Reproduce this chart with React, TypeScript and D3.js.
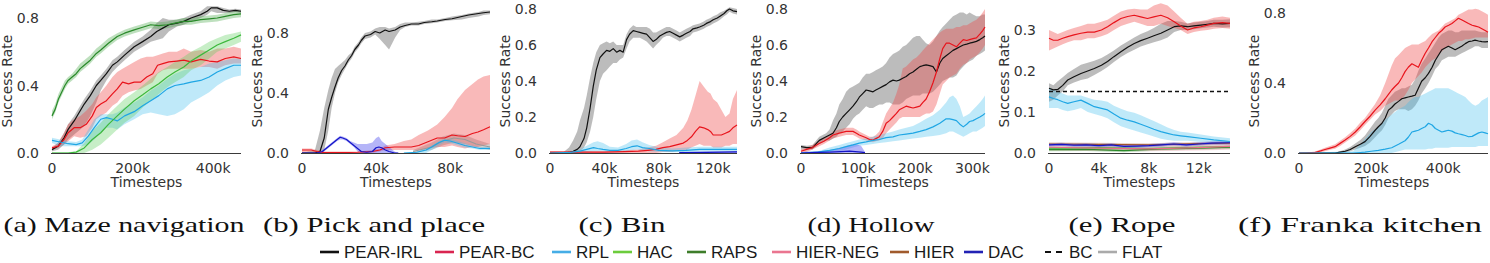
import React from 'react';
import * as d3 from 'd3';

type Pt = number[]; // [timestep (k), mean, lower, upper]

// ---------------- DATA ----------------
// (a) Maze navigation
const mazePearIrl: Pt[] = [
  [0,0.02,0.01,0.03],[15,0.04,0.02,0.06],[30,0.09,0.05,0.12],[40,0.14,0.08,0.17],[55,0.19,0.11,0.22],
  [70,0.25,0.14,0.28],[80,0.29,0.16,0.32],[95,0.34,0.22,0.37],[110,0.4,0.3,0.43],[121,0.43,0.37,0.46],
  [135,0.47,0.43,0.5],[150,0.52,0.48,0.55],[162,0.54,0.51,0.57],[180,0.58,0.55,0.61],[204,0.63,0.6,0.66],
  [225,0.66,0.63,0.69],[245,0.69,0.66,0.73],[260,0.72,0.67,0.77],[275,0.74,0.68,0.8],[290,0.76,0.72,0.79],
  [310,0.77,0.75,0.79],[327,0.78,0.76,0.8],[345,0.8,0.78,0.82],[369,0.82,0.8,0.84],[385,0.84,0.82,0.87],
  [395,0.86,0.84,0.87],[410,0.86,0.83,0.87],[425,0.845,0.83,0.86],[440,0.84,0.83,0.85],[455,0.845,0.835,0.855],
  [469,0.84,0.83,0.85],
];
const mazePearBc: Pt[] = [
  [0,0.03,0.02,0.04],[15,0.04,0.03,0.06],[30,0.08,0.05,0.12],[40,0.12,0.07,0.17],[55,0.15,0.1,0.2],
  [70,0.15,0.09,0.22],[85,0.17,0.1,0.25],[100,0.22,0.15,0.29],[110,0.27,0.2,0.33],[121,0.29,0.22,0.36],
  [135,0.31,0.24,0.4],[150,0.35,0.28,0.45],[162,0.38,0.3,0.48],[175,0.42,0.34,0.5],[190,0.41,0.36,0.52],
  [204,0.42,0.37,0.54],[220,0.42,0.38,0.56],[235,0.45,0.4,0.57],[250,0.47,0.42,0.57],[262,0.52,0.47,0.58],
  [275,0.53,0.49,0.59],[290,0.54,0.5,0.6],[310,0.545,0.5,0.6],[327,0.55,0.5,0.62],[345,0.54,0.5,0.6],
  [369,0.555,0.51,0.61],[390,0.545,0.51,0.6],[410,0.54,0.5,0.62],[430,0.56,0.52,0.62],[451,0.57,0.53,0.63],
  [469,0.56,0.53,0.62],
];
const mazeRpl: Pt[] = [
  [0,0.075,0.06,0.09],[20,0.065,0.04,0.08],[40,0.055,0.04,0.07],[60,0.05,0.04,0.065],[75,0.06,0.04,0.08],
  [90,0.1,0.05,0.14],[105,0.15,0.08,0.2],[121,0.2,0.12,0.23],[135,0.21,0.15,0.23],[150,0.2,0.15,0.23],
  [162,0.19,0.14,0.24],[180,0.22,0.17,0.27],[204,0.245,0.2,0.3],[225,0.28,0.23,0.33],[245,0.31,0.24,0.37],
  [265,0.34,0.23,0.4],[286,0.38,0.22,0.44],[305,0.4,0.23,0.47],[327,0.41,0.26,0.49],[345,0.42,0.3,0.5],
  [369,0.43,0.33,0.51],[390,0.45,0.36,0.53],[410,0.48,0.4,0.54],[430,0.5,0.43,0.55],[451,0.52,0.45,0.56],
  [469,0.52,0.46,0.56],
];
const mazeHac: Pt[] = [
  [0,0,0,0.005],[40,0,0,0.005],[60,0.005,0,0.01],[80,0.03,0,0.06],[100,0.08,0.02,0.13],
  [121,0.12,0.05,0.18],[140,0.17,0.09,0.23],[162,0.22,0.14,0.28],[180,0.26,0.18,0.32],[204,0.31,0.22,0.36],
  [225,0.345,0.27,0.4],[245,0.38,0.31,0.44],[265,0.41,0.35,0.48],[286,0.45,0.39,0.51],[305,0.48,0.42,0.54],
  [327,0.51,0.45,0.57],[345,0.545,0.49,0.6],[369,0.58,0.52,0.63],[390,0.61,0.56,0.66],[410,0.64,0.6,0.68],
  [430,0.66,0.62,0.7],[451,0.68,0.64,0.71],[469,0.7,0.66,0.72],
];
const mazeRaps: Pt[] = [
  [0,0.22,0.2,0.25],[8,0.26,0.24,0.29],[16,0.32,0.3,0.35],[24,0.36,0.34,0.39],[32,0.4,0.38,0.43],
  [40,0.43,0.41,0.45],[50,0.45,0.43,0.47],[60,0.47,0.45,0.5],[70,0.5,0.48,0.53],[80,0.52,0.5,0.55],
  [95,0.55,0.53,0.58],[110,0.59,0.57,0.62],[121,0.61,0.59,0.64],[140,0.65,0.63,0.68],[162,0.69,0.67,0.71],
  [180,0.71,0.69,0.73],[204,0.73,0.71,0.75],[225,0.745,0.725,0.765],[245,0.76,0.74,0.78],[265,0.755,0.735,0.775],
  [286,0.76,0.74,0.78],[305,0.77,0.75,0.79],[327,0.78,0.76,0.8],[345,0.78,0.76,0.8],[369,0.79,0.77,0.81],
  [390,0.795,0.775,0.815],[410,0.8,0.78,0.82],[430,0.81,0.79,0.83],[451,0.82,0.8,0.84],[469,0.825,0.805,0.845],
];

// (b) Pick and place
const pickPearIrl: Pt[] = [
  [0,0,0,0],[7,0,0,0.02],[9.7,0.01,0,0.15],[12,0.1,0.02,0.3],[14.2,0.29,0.15,0.42],[16,0.37,0.3,0.5],
  [17.8,0.44,0.4,0.56],[19.5,0.5,0.47,0.58],[21.4,0.55,0.52,0.6],[23.2,0.58,0.56,0.62],[25,0.62,0.6,0.65],
  [26.8,0.65,0.63,0.67],[28.5,0.69,0.67,0.71],[30.5,0.72,0.7,0.74],[32,0.75,0.73,0.77],[34,0.78,0.76,0.8],
  [37,0.79,0.77,0.81],[39.5,0.81,0.79,0.83],[42,0.8,0.76,0.84],[44.9,0.82,0.72,0.84],[47,0.81,0.69,0.83],
  [50.3,0.82,0.77,0.84],[53,0.84,0.82,0.86],[55.7,0.85,0.84,0.87],[59,0.86,0.85,0.87],[62.9,0.86,0.85,0.875],
  [66,0.87,0.86,0.88],[70,0.875,0.865,0.89],[73,0.88,0.87,0.89],[77.3,0.89,0.88,0.9],[81,0.895,0.885,0.91],
  [86.3,0.91,0.89,0.92],[90,0.92,0.9,0.93],[95.3,0.93,0.91,0.94],[98,0.935,0.92,0.95],[101.5,0.94,0.925,0.95],
];
const pickPearBc: Pt[] = [
  [0,0.02,0,0.03],[5,0.02,0.01,0.03],[8,0.01,0,0.02],[12,0.003,0,0.01],[20,0.003,0,0.01],[30,0.005,0,0.01],
  [38,0.01,0,0.02],[42,0.02,0.01,0.03],[45,0.035,0.02,0.05],[50,0.04,0.02,0.06],[55,0.04,0.02,0.08],
  [59,0.04,0.02,0.09],[63,0.05,0.02,0.12],[68,0.075,0.03,0.15],[73,0.1,0.04,0.19],[77,0.1,0.04,0.24],
  [81,0.12,0.05,0.3],[84,0.115,0.04,0.36],[88,0.11,0.03,0.42],[92,0.13,0.04,0.46],[95,0.14,0.04,0.49],
  [98,0.155,0.05,0.51],[101.5,0.175,0.06,0.52],
];
const pickDac: Pt[] = [
  [0,0,0,0],[8,0,0,0],[11,0.01,0,0.02],[14,0.04,0.03,0.05],[17,0.07,0.06,0.08],[19,0.09,0.08,0.1],
  [20.6,0.105,0.09,0.115],[22,0.1,0.09,0.11],[24,0.09,0.08,0.1],[26,0.07,0.06,0.08],[28,0.05,0.04,0.07],
  [30,0.03,0.01,0.06],[32,0.01,0,0.06],[35,0.005,0,0.06],[38,0.01,0,0.07],[40,0.035,0,0.1],
  [41.5,0.04,0,0.11],[43,0.035,0,0.08],[45,0.02,0,0.06],[47,0.01,0,0.04],[50,0,0,0.01],[52,0,0,0],
];
const pickRpl: Pt[] = [
  [55,0,0,0],[62,0.005,0,0.01],[67,0.02,0,0.03],[70,0.04,0.02,0.05],[74,0.07,0.05,0.08],[77,0.085,0.07,0.095],
  [80,0.08,0.065,0.095],[84,0.065,0.05,0.08],[88,0.05,0.035,0.065],[92,0.04,0.03,0.05],[96,0.03,0.02,0.04],
  [101.5,0.03,0.02,0.04],
];
const pickFlat: Pt[] = [
  [60,0.01,0,0.02],[70,0.04,0.02,0.07],[76,0.08,0.05,0.11],[82,0.1,0.07,0.13],[88,0.09,0.06,0.12],
  [94,0.06,0.04,0.09],[101.5,0.04,0.02,0.06],
];

// (c) Bin
const binPearIrl: Pt[] = [
  [0,0,0,0],[10,0,0,0.005],[14,0.003,0,0.03],[17,0.01,0,0.07],[20,0.02,0,0.12],[22,0.035,0.01,0.18],
  [25,0.08,0.03,0.25],[27,0.14,0.06,0.32],[29.5,0.25,0.12,0.42],[31.8,0.37,0.2,0.5],[34,0.46,0.3,0.56],
  [36.7,0.53,0.4,0.6],[39,0.55,0.44,0.61],[41.6,0.57,0.46,0.62],[44,0.565,0.48,0.61],[46.5,0.58,0.5,0.62],
  [49,0.56,0.5,0.6],[51.4,0.57,0.52,0.6],[53.8,0.56,0.53,0.6],[56.3,0.63,0.58,0.66],[58.5,0.66,0.62,0.69],
  [61.2,0.68,0.64,0.71],[63.5,0.675,0.64,0.7],[66,0.67,0.64,0.7],[68.5,0.665,0.63,0.7],[71,0.66,0.62,0.7],
  [73.5,0.64,0.6,0.69],[75.8,0.62,0.58,0.67],[78,0.63,0.6,0.67],[80.7,0.65,0.62,0.68],[83,0.66,0.64,0.69],
  [85.6,0.67,0.65,0.7],[88,0.675,0.65,0.7],[90.5,0.665,0.64,0.69],[93,0.655,0.63,0.68],[95.4,0.645,0.62,0.67],
  [98,0.655,0.63,0.68],[100.3,0.665,0.64,0.69],[103,0.675,0.65,0.7],[105.2,0.69,0.67,0.71],[108,0.695,0.675,0.715],
  [110,0.7,0.68,0.72],[113,0.71,0.69,0.73],[115,0.72,0.7,0.74],[118,0.73,0.71,0.75],[120,0.74,0.72,0.76],
  [123,0.75,0.73,0.77],[125,0.76,0.74,0.78],[128,0.775,0.76,0.79],[130,0.79,0.77,0.8],[132,0.8,0.785,0.81],
  [134.5,0.79,0.775,0.805],[137.5,0.785,0.77,0.8],
];
const binPearBc: Pt[] = [
  [0,0.005,0,0.01],[20,0.005,0,0.01],[40,0.005,0,0.01],[55,0.008,0,0.015],[65,0.01,0,0.02],[72,0.015,0,0.03],
  [78,0.02,0,0.04],[83,0.03,0.005,0.06],[88,0.035,0.005,0.08],[93,0.045,0.01,0.1],[98,0.055,0.01,0.14],
  [101,0.07,0.02,0.18],[104,0.09,0.03,0.24],[107,0.12,0.04,0.32],[110,0.145,0.05,0.4],[113,0.14,0.04,0.37],
  [116,0.13,0.04,0.34],[118,0.12,0.04,0.33],[120,0.1,0.03,0.3],[123,0.1,0.03,0.28],[126,0.1,0.03,0.24],
  [129,0.11,0.04,0.2],[132,0.12,0.04,0.22],[134.5,0.14,0.05,0.3],[137.5,0.155,0.05,0.35],
];
const binRpl: Pt[] = [
  [0,0,0,0],[15,0.003,0,0.005],[22,0.01,0,0.02],[27,0.02,0.005,0.04],[32,0.03,0.01,0.06],[35,0.025,0.01,0.065],
  [39,0.02,0.01,0.055],[44,0.015,0.005,0.035],[50,0.015,0.005,0.03],[56,0.025,0.01,0.05],[60,0.035,0.015,0.07],
  [64,0.04,0.02,0.075],[68,0.03,0.015,0.06],[73,0.025,0.01,0.045],[80,0.015,0.005,0.03],[90,0.012,0.004,0.025],
  [100,0.015,0.005,0.03],[110,0.02,0.008,0.035],[120,0.02,0.008,0.035],[130,0.02,0.008,0.035],[137.5,0.02,0.008,0.035],
];
const binDac: Pt[] = [[95,0.002,0,0.004],[115,0.004,0,0.008],[137.5,0.006,0,0.01]];

// (d) Hollow
const hollowPearIrl: Pt[] = [
  [0,0.035,0.02,0.045],[10,0.03,0.02,0.04],[20,0.03,0.02,0.045],[32,0.07,0.05,0.09],[44,0.09,0.07,0.11],
  [50,0.1,0.07,0.13],[56,0.11,0.08,0.18],[62,0.14,0.09,0.22],[67,0.175,0.11,0.27],[73,0.2,0.12,0.3],
  [79,0.22,0.14,0.34],[85,0.24,0.16,0.36],[91,0.26,0.19,0.37],[97,0.285,0.21,0.38],[102,0.31,0.22,0.39],
  [108,0.33,0.24,0.42],[114,0.35,0.26,0.44],[120,0.345,0.25,0.44],[126,0.34,0.25,0.45],[131,0.35,0.26,0.46],
  [137,0.36,0.27,0.47],[143,0.37,0.27,0.48],[149,0.38,0.28,0.5],[155,0.395,0.28,0.53],[161,0.405,0.27,0.55],
  [167,0.4,0.27,0.56],[172,0.405,0.27,0.57],[178,0.415,0.28,0.59],[184,0.425,0.3,0.6],[190,0.44,0.31,0.62],
  [196,0.45,0.32,0.64],[202,0.465,0.32,0.65],[208,0.48,0.32,0.65],[213,0.485,0.33,0.63],[219,0.49,0.33,0.61],
  [225,0.485,0.33,0.6],[231,0.48,0.34,0.62],[237,0.45,0.36,0.65],[243,0.5,0.38,0.68],[248,0.525,0.4,0.7],
  [254,0.54,0.41,0.72],[260,0.555,0.42,0.74],[266,0.57,0.42,0.76],[272,0.58,0.43,0.77],[278,0.59,0.46,0.78],
  [284,0.6,0.48,0.78],[290,0.605,0.5,0.77],[295,0.61,0.51,0.78],[301,0.615,0.52,0.77],[307,0.62,0.54,0.76],
  [313,0.63,0.55,0.76],[318,0.64,0.56,0.77],[322,0.65,0.57,0.77],
];
const hollowPearBc: Pt[] = [
  [0,0.01,0,0.02],[10,0.02,0.005,0.03],[20,0.03,0.02,0.045],[30,0.05,0.035,0.065],[40,0.065,0.05,0.08],
  [50,0.085,0.07,0.1],[56,0.1,0.08,0.12],[67,0.11,0.09,0.13],[79,0.12,0.1,0.14],[91,0.12,0.1,0.14],
  [97,0.11,0.09,0.13],[102,0.1,0.08,0.12],[114,0.085,0.07,0.1],[120,0.075,0.065,0.09],[126,0.072,0.06,0.09],
  [131,0.08,0.065,0.1],[137,0.09,0.07,0.12],[143,0.12,0.08,0.17],[149,0.165,0.11,0.22],[155,0.18,0.13,0.25],
  [161,0.2,0.15,0.28],[167,0.22,0.17,0.33],[172,0.24,0.19,0.38],[178,0.25,0.2,0.47],[184,0.26,0.2,0.48],
  [190,0.255,0.2,0.5],[196,0.25,0.2,0.52],[202,0.255,0.2,0.53],[208,0.26,0.2,0.55],[213,0.28,0.21,0.57],
  [219,0.3,0.22,0.59],[225,0.34,0.22,0.61],[231,0.39,0.23,0.63],[237,0.45,0.27,0.65],[243,0.525,0.33,0.67],
  [248,0.58,0.38,0.68],[254,0.61,0.4,0.69],[260,0.61,0.42,0.69],[266,0.6,0.43,0.69],[272,0.59,0.44,0.7],
  [278,0.61,0.47,0.7],[284,0.63,0.49,0.71],[290,0.625,0.5,0.71],[295,0.63,0.52,0.72],[301,0.635,0.53,0.73],
  [307,0.64,0.54,0.74],[313,0.66,0.56,0.76],[318,0.68,0.58,0.78],[322,0.7,0.6,0.8],
];
const hollowRpl: Pt[] = [
  [0,0,0,0.005],[30,0.005,0,0.01],[50,0.015,0.005,0.03],[67,0.025,0.01,0.045],[79,0.035,0.02,0.055],
  [91,0.045,0.03,0.065],[102,0.055,0.04,0.075],[114,0.062,0.045,0.08],[126,0.07,0.05,0.09],[137,0.075,0.055,0.1],
  [149,0.085,0.06,0.11],[161,0.09,0.065,0.12],[172,0.1,0.07,0.13],[184,0.105,0.075,0.14],[196,0.11,0.08,0.15],
  [208,0.12,0.085,0.17],[219,0.13,0.09,0.19],[231,0.145,0.095,0.21],[243,0.165,0.1,0.24],[254,0.19,0.11,0.28],
  [260,0.19,0.12,0.31],[266,0.185,0.12,0.32],[272,0.18,0.11,0.3],[278,0.16,0.1,0.26],[284,0.145,0.09,0.2],
  [290,0.16,0.1,0.21],[295,0.175,0.11,0.22],[301,0.18,0.12,0.24],[307,0.19,0.12,0.26],[313,0.2,0.13,0.28],
  [318,0.21,0.14,0.3],[322,0.22,0.15,0.32],
];
const hollowDac: Pt[] = [
  [0,0,0,0.005],[30,0.003,0,0.01],[50,0.005,0,0.015],[70,0.008,0,0.03],[85,0.01,0,0.045],[95,0.008,0,0.05],
  [105,0.005,0,0.04],[112,0.002,0,0.005],
];

// (e) Rope
const ropePearBc: Pt[] = [
  [0,0.28,0.25,0.3],[0.35,0.275,0.255,0.295],[0.7,0.275,0.26,0.29],[1.1,0.28,0.265,0.295],[1.5,0.284,0.27,0.3],
  [2,0.288,0.275,0.305],[2.56,0.292,0.275,0.31],[3.1,0.295,0.28,0.315],[3.63,0.295,0.28,0.315],[4.2,0.3,0.285,0.32],
  [4.69,0.308,0.29,0.325],[5.2,0.318,0.3,0.335],[5.76,0.328,0.31,0.345],[6.3,0.333,0.315,0.35],[6.83,0.336,0.32,0.352],
  [7.35,0.332,0.315,0.35],[7.89,0.328,0.31,0.35],[8.4,0.332,0.31,0.36],[8.96,0.336,0.315,0.365],[9.5,0.33,0.31,0.36],
  [10.03,0.32,0.305,0.345],[10.55,0.31,0.3,0.33],[11.1,0.3,0.29,0.315],[11.6,0.305,0.295,0.32],[12.16,0.308,0.298,0.322],
  [12.7,0.312,0.3,0.325],[13.2,0.316,0.303,0.33],[13.9,0.318,0.305,0.333],[14.5,0.316,0.303,0.33],
];
const ropePearIrl: Pt[] = [
  [0,0.158,0.125,0.17],[0.35,0.154,0.13,0.165],[0.7,0.155,0.14,0.175],[1.1,0.165,0.15,0.185],[1.5,0.178,0.165,0.195],
  [2,0.186,0.172,0.205],[2.56,0.194,0.178,0.215],[3.1,0.2,0.182,0.22],[3.63,0.206,0.19,0.225],[4.2,0.214,0.2,0.232],
  [4.69,0.223,0.21,0.24],[5.2,0.235,0.222,0.25],[5.76,0.247,0.234,0.262],[6.3,0.258,0.244,0.272],[6.83,0.267,0.252,0.282],
  [7.35,0.274,0.26,0.29],[7.89,0.28,0.265,0.297],[8.4,0.286,0.27,0.305],[8.96,0.292,0.275,0.315],[9.5,0.3,0.282,0.322],
  [10.03,0.308,0.295,0.322],[10.55,0.31,0.3,0.32],[11.1,0.308,0.3,0.316],[11.6,0.31,0.302,0.318],[12.16,0.312,0.304,0.32],
  [12.7,0.314,0.306,0.322],[13.2,0.316,0.308,0.325],[13.9,0.315,0.306,0.325],[14.5,0.316,0.307,0.326],
];
const ropeRpl: Pt[] = [
  [0,0.137,0.11,0.16],[0.35,0.133,0.11,0.155],[0.7,0.13,0.11,0.15],[1.1,0.125,0.105,0.145],[1.5,0.121,0.102,0.14],
  [2,0.125,0.105,0.14],[2.56,0.129,0.11,0.14],[3.1,0.121,0.1,0.135],[3.63,0.113,0.095,0.13],[4.2,0.109,0.09,0.128],
  [4.69,0.105,0.085,0.125],[5.2,0.095,0.075,0.115],[5.76,0.085,0.065,0.108],[6.3,0.08,0.06,0.102],[6.83,0.076,0.055,0.098],
  [7.35,0.07,0.05,0.092],[7.89,0.064,0.045,0.085],[8.4,0.058,0.04,0.078],[8.96,0.052,0.035,0.07],[9.5,0.048,0.032,0.062],
  [10.03,0.044,0.03,0.056],[10.55,0.042,0.03,0.052],[11.1,0.04,0.03,0.05],[12.16,0.036,0.027,0.045],[13.2,0.032,0.025,0.04],
  [14.5,0.028,0.022,0.036],
];
const ropeBcLevel: Pt[] = [[0,0.15],[14.5,0.15]];
const ropeDac: Pt[] = [
  [0,0.02,0.016,0.024],[1,0.021,0.017,0.025],[2,0.019,0.015,0.023],[3,0.02,0.016,0.024],[4,0.018,0.014,0.022],
  [5,0.02,0.016,0.024],[6,0.016,0.012,0.02],[7,0.017,0.013,0.021],[8,0.018,0.014,0.022],[9,0.02,0.016,0.024],
  [10,0.022,0.018,0.026],[11,0.02,0.016,0.024],[12,0.022,0.018,0.026],[13,0.024,0.02,0.028],[14.5,0.025,0.021,0.029],
];
const ropeRaps: Pt[] = [[0,0.008,0.004,0.012],[3,0.009,0.005,0.013],[6,0.006,0.002,0.01],[9,0.01,0.006,0.014],[12,0.012,0.008,0.016],[14.5,0.014,0.01,0.018]];
const ropeHac: Pt[] = [[0,0.012,0.008,0.016],[4,0.013,0.009,0.017],[8,0.011,0.007,0.015],[12,0.014,0.01,0.018],[14.5,0.015,0.011,0.019]];
const ropeHierNeg: Pt[] = [[0,0.014,0.006,0.02],[4,0.012,0.005,0.019],[8,0.01,0.004,0.017],[12,0.013,0.006,0.02],[14.5,0.016,0.008,0.022]];
const ropeHier: Pt[] = [[0,0.022,0.018,0.026],[4,0.021,0.017,0.025],[8,0.02,0.016,0.024],[12,0.023,0.019,0.027],[14.5,0.024,0.02,0.028]];

// (f) Franka kitchen
const kitchenPearBc: Pt[] = [
  [0,0,0,0],[20,0,0,0.002],[44,0.003,0,0.008],[60,0.012,0.005,0.02],[72,0.02,0.01,0.03],[86,0.028,0.018,0.04],
  [100,0.036,0.025,0.05],[114,0.055,0.04,0.07],[128,0.074,0.06,0.09],[142,0.095,0.08,0.115],[156,0.12,0.1,0.14],
  [170,0.15,0.13,0.175],[183,0.18,0.16,0.2],[197,0.21,0.19,0.24],[211,0.245,0.22,0.28],[225,0.275,0.24,0.33],
  [239,0.31,0.27,0.4],[248,0.335,0.28,0.45],[257,0.36,0.29,0.5],[266,0.38,0.3,0.54],[276,0.4,0.3,0.56],
  [285,0.43,0.31,0.58],[294,0.465,0.33,0.6],[303,0.49,0.36,0.61],[313,0.51,0.4,0.62],[322,0.5,0.42,0.62],
  [331,0.49,0.44,0.62],[340,0.53,0.46,0.63],[350,0.57,0.49,0.64],[359,0.6,0.51,0.66],[369,0.636,0.53,0.68],
  [378,0.66,0.54,0.69],[387,0.684,0.56,0.7],[396,0.7,0.58,0.72],[405,0.72,0.6,0.74],[415,0.73,0.61,0.75],
  [424,0.74,0.62,0.76],[433,0.755,0.63,0.77],[442,0.77,0.64,0.79],[452,0.76,0.64,0.8],[461,0.75,0.65,0.81],
  [470,0.74,0.65,0.82],[480,0.73,0.655,0.82],[489,0.725,0.66,0.825],[498,0.72,0.66,0.82],[507,0.71,0.66,0.81],
  [516,0.7,0.66,0.8],[524,0.69,0.66,0.79],
];
const kitchenPearIrl: Pt[] = [
  [0,0,0,0],[100,0,0,0.003],[114,0.005,0,0.01],[128,0.01,0.003,0.02],[142,0.02,0.01,0.035],[156,0.036,0.02,0.055],
  [170,0.05,0.03,0.075],[183,0.065,0.04,0.1],[197,0.095,0.06,0.14],[211,0.13,0.09,0.18],[220,0.15,0.11,0.2],
  [230,0.17,0.13,0.23],[239,0.2,0.16,0.27],[248,0.245,0.2,0.31],[257,0.26,0.22,0.33],[266,0.28,0.24,0.35],
  [276,0.295,0.25,0.36],[285,0.31,0.25,0.37],[294,0.315,0.25,0.37],[303,0.32,0.24,0.38],[313,0.325,0.25,0.39],
  [322,0.33,0.27,0.42],[331,0.37,0.3,0.47],[340,0.41,0.34,0.51],[350,0.43,0.37,0.54],[359,0.455,0.4,0.57],
  [369,0.49,0.44,0.6],[378,0.53,0.48,0.63],[387,0.56,0.5,0.66],[396,0.59,0.53,0.68],[405,0.6,0.54,0.69],
  [414,0.61,0.55,0.7],[424,0.6,0.55,0.7],[433,0.59,0.55,0.69],[442,0.6,0.56,0.69],[451,0.61,0.57,0.7],
  [461,0.625,0.58,0.7],[470,0.636,0.59,0.7],[480,0.64,0.6,0.7],[488,0.645,0.61,0.7],[498,0.64,0.61,0.695],
  [507,0.636,0.6,0.69],[516,0.635,0.6,0.69],[524,0.636,0.6,0.69],
];
const kitchenRpl: Pt[] = [
  [0,0,0,0],[150,0,0,0.01],[170,0.003,0,0.05],[183,0.005,0,0.08],[200,0.01,0,0.12],[220,0.015,0,0.15],
  [239,0.022,0,0.19],[257,0.03,0,0.22],[276,0.05,0.01,0.25],[294,0.07,0.02,0.27],[303,0.09,0.02,0.29],
  [313,0.12,0.02,0.31],[322,0.125,0.02,0.32],[331,0.13,0.02,0.32],[340,0.14,0.02,0.33],[350,0.15,0.02,0.34],
  [359,0.17,0.025,0.35],[369,0.16,0.025,0.36],[378,0.14,0.03,0.37],[387,0.13,0.03,0.37],[396,0.12,0.03,0.37],
  [405,0.125,0.03,0.37],[414,0.13,0.03,0.37],[424,0.125,0.035,0.36],[433,0.115,0.035,0.35],[442,0.11,0.035,0.34],
  [452,0.105,0.035,0.33],[461,0.1,0.035,0.32],[470,0.093,0.035,0.3],[480,0.095,0.035,0.28],[489,0.105,0.035,0.27],
  [498,0.115,0.04,0.28],[507,0.12,0.04,0.3],[516,0.115,0.04,0.31],[524,0.11,0.04,0.32],
];

// Ticks and labels
const mazeXTicks = [0, 200, 400];
const pickXTicks = [0, 40, 80];
const binXTicks = [0, 40, 80, 120];
const hollowXTicks = [0, 100, 200, 300];
const ropeXTicks = [0, 4, 8, 12];
const kitchenXTicks = [0, 200, 400];
const yTicks08 = [0, 0.4, 0.8];
const yTicks02 = [0, 0.2, 0.4, 0.6, 0.8];
const yTicksRope = [0, 0.1, 0.2, 0.3];

const captions = ['(a) Maze navigation', '(b) Pick and place', '(c) Bin', '(d) Hollow', '(e) Rope', '(f) Franka kitchen'];
const legendNames = ['PEAR-IRL', 'PEAR-BC', 'RPL', 'HAC', 'RAPS', 'HIER-NEG', 'HIER', 'DAC', 'BC', 'FLAT'];

// ---------------- STYLES ----------------
const STY: Record<string, { line: string; band: string; op: number }> = {
  irl: { line: '#111111', band: '#7a7a7a', op: 0.5 },
  bc: { line: '#e8141c', band: '#f04848', op: 0.38 },
  rpl: { line: '#1fa6e4', band: '#3cbcec', op: 0.33 },
  hac: { line: '#3cb83c', band: '#5fcf5f', op: 0.35 },
  raps: { line: '#2a8a2a', band: '#44a544', op: 0.35 },
  dac: { line: '#1414c8', band: '#5a5af0', op: 0.45 },
  flat: { line: '#9a9a9a', band: '#9a9a9a', op: 0.45 },
  hierneg: { line: '#e8708a', band: '#f090a5', op: 0.35 },
  hier: { line: '#a0522d', band: '#b87048', op: 0.3 },
};
const legendColors = ['#111111', '#d92550', '#45ade6', '#6ccc3c', '#3e7d2a', '#ea7590', '#a05a2c', '#2222b4', '#111111', '#aaaaaa'];
const legendLineX = [320, 435, 552, 613, 687, 772, 890, 964, 1045, 1098];

interface S { data: Pt[]; sty: string; dash?: string; noBand?: boolean }
interface PanelCfg {
  x0: number; x1: number; xMax: number; yMax: number; yTopPx: number;
  xTicks: number[]; xUnit: string; yTicks: number[]; series: S[]; caption: string; capCx: number; capW: number;
}

const BASE = 153;
const panels: PanelCfg[] = [
  { x0: 52, x1: 241, xMax: 469, yMax: 0.8, yTopPx: 18, xTicks: mazeXTicks, xUnit: 'k', yTicks: yTicks08,
    series: [
      { data: mazePearIrl, sty: 'irl' }, { data: mazePearBc, sty: 'bc' }, { data: mazeRpl, sty: 'rpl' },
      { data: mazeHac, sty: 'hac' }, { data: mazeRaps, sty: 'raps' },
    ], caption: captions[0], capCx: 124, capW: 241 },
  { x0: 302, x1: 490, xMax: 101.5, yMax: 0.8, yTopPx: 33, xTicks: pickXTicks, xUnit: 'k', yTicks: yTicks08,
    series: [
      { data: pickFlat, sty: 'flat' }, { data: pickPearIrl, sty: 'irl' }, { data: pickPearBc, sty: 'bc' },
      { data: pickRpl, sty: 'rpl' }, { data: pickDac, sty: 'dac' },
    ], caption: captions[1], capCx: 374, capW: 222 },
  { x0: 550, x1: 737, xMax: 137.5, yMax: 0.8, yTopPx: 9, xTicks: binXTicks, xUnit: 'k', yTicks: yTicks02,
    series: [
      { data: binPearIrl, sty: 'irl' }, { data: binPearBc, sty: 'bc' }, { data: binRpl, sty: 'rpl' }, { data: binDac, sty: 'dac' },
    ], caption: captions[2], capCx: 622, capW: 87 },
  { x0: 801, x1: 985, xMax: 322, yMax: 0.8, yTopPx: 9, xTicks: hollowXTicks, xUnit: 'k', yTicks: yTicks02,
    series: [
      { data: hollowPearIrl, sty: 'irl' }, { data: hollowPearBc, sty: 'bc' }, { data: hollowRpl, sty: 'rpl' },
      { data: hollowDac, sty: 'dac' },
    ], caption: captions[3], capCx: 871, capW: 127 },
  { x0: 1049, x1: 1230, xMax: 14.5, yMax: 0.3, yTopPx: 30, xTicks: ropeXTicks, xUnit: 'k', yTicks: yTicksRope,
    series: [
      { data: ropePearIrl, sty: 'irl' }, { data: ropePearBc, sty: 'bc' }, { data: ropeRpl, sty: 'rpl' },
      { data: ropeHac, sty: 'hac' }, { data: ropeRaps, sty: 'raps' }, { data: ropeHierNeg, sty: 'hierneg' },
      { data: ropeHier, sty: 'hier' }, { data: ropeDac, sty: 'dac' },
      { data: ropeBcLevel, sty: 'irl', dash: '4,3', noBand: true },
    ], caption: captions[4], capCx: 1122, capW: 107 },
  { x0: 1299, x1: 1488, xMax: 524, yMax: 0.8, yTopPx: 13, xTicks: kitchenXTicks, xUnit: 'k', yTicks: yTicks08,
    series: [
      { data: kitchenPearIrl, sty: 'irl' }, { data: kitchenPearBc, sty: 'bc' }, { data: kitchenRpl, sty: 'rpl' },
    ], caption: captions[5], capCx: 1360, capW: 244 },
];

const TICK_FONT = "'DejaVu Sans', sans-serif";

function Panel({ cfg }: { cfg: PanelCfg }) {
  const x = d3.scaleLinear().domain([0, cfg.xMax]).range([cfg.x0, cfg.x1]);
  const y = d3.scaleLinear().domain([0, cfg.yMax]).range([BASE, cfg.yTopPx]);
  const area = d3.area<Pt>().x(d => x(d[0])).y0(d => y(d[2] ?? d[1])).y1(d => y(d[3] ?? d[1]));
  const line = d3.line<Pt>().x(d => x(d[0])).y(d => y(d[1]));
  const cy = (BASE + 5) / 2;
  return (
    <g>
      {cfg.series.filter(s => !s.noBand).map((s, i) => (
        <path key={'b' + i} d={area(s.data) || ''} fill={STY[s.sty].band} fillOpacity={STY[s.sty].op} stroke="none" />
      ))}
      {cfg.series.map((s, i) => (
        <path key={'l' + i} d={line(s.data) || ''} fill="none" stroke={STY[s.sty].line}
          strokeWidth={s.dash ? 1.3 : 1.2} strokeDasharray={s.dash} strokeLinejoin="round" />
      ))}
      <line x1={cfg.x0 - 1} x2={cfg.x1} y1={BASE + 0.5} y2={BASE + 0.5} stroke="#3a3a3a" strokeWidth={1.2} />
      {cfg.yTicks.map(t => (
        <text key={'y' + t} x={cfg.x0 - 13} y={y(t) + 5} textAnchor="end" fontFamily={TICK_FONT} fontSize={14} fill="#333">
          {d3.format('.1f')(t)}
        </text>
      ))}
      {cfg.xTicks.map(t => (
        <text key={'x' + t} x={x(t)} y={173} textAnchor="middle" fontFamily={TICK_FONT} fontSize={14} fill="#333">
          {t === 0 ? '0' : `${t}${cfg.xUnit}`}
        </text>
      ))}
      <text x={(cfg.x0 + cfg.x1) / 2} y={187} textAnchor="middle" fontFamily={TICK_FONT} fontSize={14} fill="#333">Timesteps</text>
      <text transform={`translate(${cfg.x0 - 45},${cy + 2}) rotate(-90)`} textAnchor="middle" dy="0.36em"
        fontFamily={TICK_FONT} fontSize={14} fill="#333">Success Rate</text>
      <text x={cfg.capCx} y={232} textAnchor="middle" fontFamily="'Liberation Serif', 'DejaVu Serif', serif" fontSize={22}
        fill="#111" textLength={cfg.capW} lengthAdjust="spacingAndGlyphs">{cfg.caption}</text>
    </g>
  );
}

function Legend() {
  return (
    <g>
      {legendNames.map((n, i) => {
        const lx = legendLineX[i];
        const isBc = n === 'BC';
        return (
          <g key={n}>
            <line x1={lx} x2={lx + 19} y1={252} y2={252} stroke={legendColors[i]} strokeWidth={isBc ? 2.2 : 2.6}
              strokeDasharray={isBc ? '6,5' : undefined} />
            <text x={lx + 24} y={258.3} fontFamily="'Liberation Sans', Arial, sans-serif" fontSize={17} fill="#1a1a1a">{n}</text>
          </g>
        );
      })}
    </g>
  );
}

export default function App() {
  return (
    <svg width={1490} height={263} style={{ position: 'absolute', left: 0, top: 0, background: '#fff' }}
      xmlns="http://www.w3.org/2000/svg">
      <rect x={0} y={0} width={1490} height={263} fill="#fff" />
      {panels.map((p, i) => <Panel key={i} cfg={p} />)}
      <Legend />
    </svg>
  );
}
